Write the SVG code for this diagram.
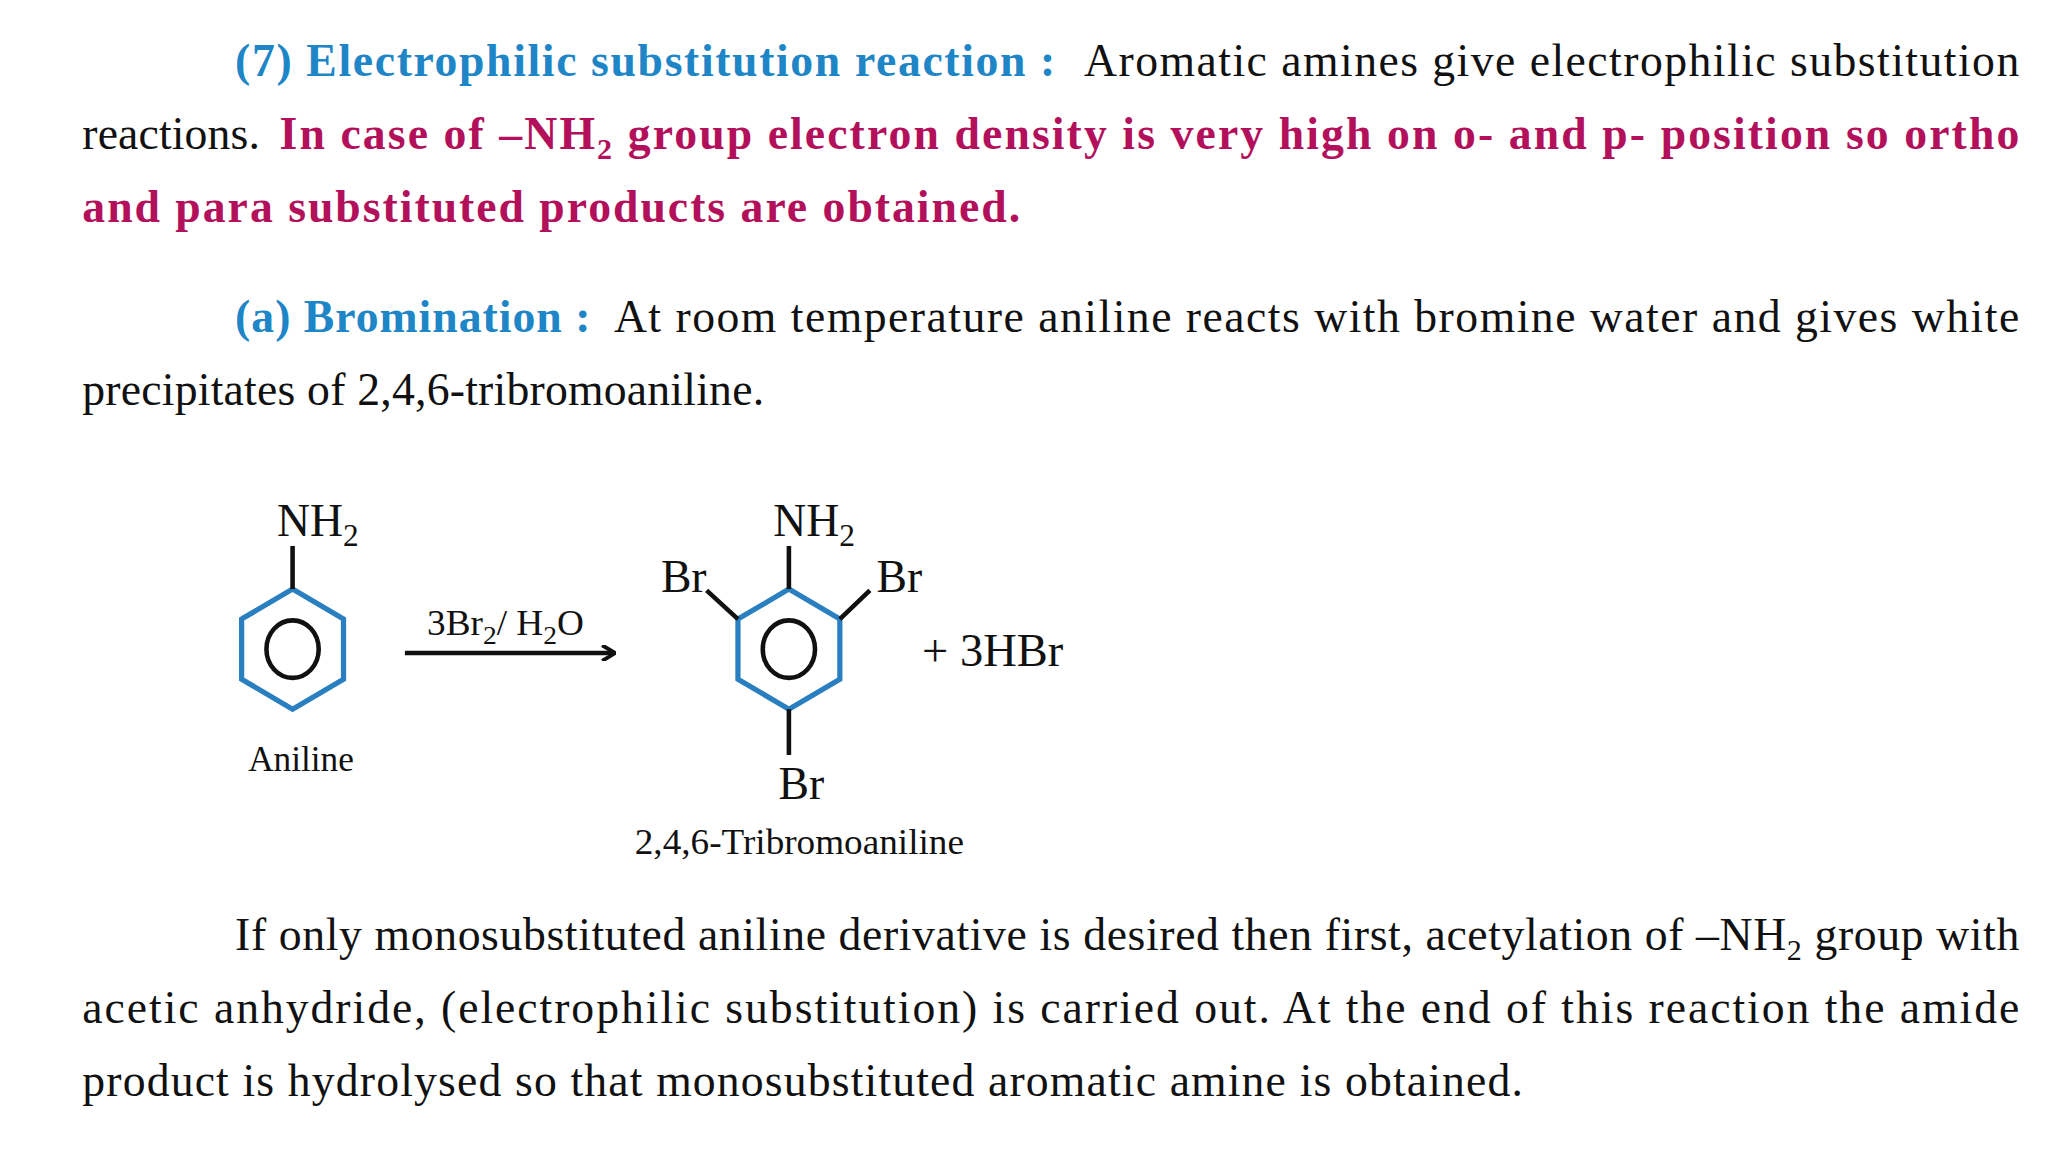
<svg xmlns="http://www.w3.org/2000/svg" width="2048" height="1152" viewBox="0 0 2048 1152">
<style>
text{font-family:"Liberation Serif","Times New Roman",serif;fill:#111}
.t{font-size:35px}
.b{font-weight:bold}
.blue{fill:#1e86c6;font-weight:bold}
.mag{fill:#b3105c;font-weight:bold}
.s{font-size:27px}
.ring{fill:none;stroke:#2a7fc0;stroke-width:4}
.bd{stroke:#111;stroke-width:3.5;fill:none}
</style>
<defs><marker id="ah" markerWidth="12" markerHeight="12" refX="10" refY="6" orient="auto" markerUnits="userSpaceOnUse"><path d="M1,0 L11,6 L1,12" fill="none" stroke="#111" stroke-width="3"/></marker></defs>
<rect width="2048" height="1152" fill="#fff"/>
<g transform="scale(1.30612)">
<g id="text-top">
<text class="t blue" x="180" y="58" textLength="628" lengthAdjust="spacing">(7) Electrophilic substitution reaction :</text>
<text class="t" x="830" y="58" textLength="716" lengthAdjust="spacing">Aromatic amines give electrophilic substitution</text>
<text class="t" x="63" y="114" textLength="136" lengthAdjust="spacing">reactions.</text>
<text class="t mag" x="214" y="114" textLength="1332" lengthAdjust="spacing">In case of –NH<tspan font-size="23" dy="8">2</tspan><tspan dy="-8"> group electron density is very high on o- and p- position so ortho</tspan></text>
<text class="t mag" x="63" y="170" textLength="718" lengthAdjust="spacing">and para substituted products are obtained.</text>
<text class="t blue" x="180" y="254" textLength="272" lengthAdjust="spacing">(a) Bromination :</text>
<text class="t" x="470" y="254" textLength="1076" lengthAdjust="spacing">At room temperature aniline reacts with bromine water and gives white</text>
<text class="t" x="63" y="310" textLength="522" lengthAdjust="spacing">precipitates of 2,4,6-tribromoaniline.</text>
</g>
<g id="aniline">
<polygon class="ring" points="224,451 263,474 263,520 224,543 185,520 185,474"/>
<ellipse class="bd" cx="224" cy="497" rx="20" ry="22"/>
<line class="bd" x1="224" y1="418" x2="224" y2="451"/>
<text class="t" x="212" y="410" font-size="33">NH<tspan font-size="24" dy="8">2</tspan></text>
<text class="s" x="190" y="590">Aniline</text>
</g>
<g id="connectors">
<line class="bd" x1="310" y1="500" x2="470" y2="500" marker-end="url(#ah)"/>
<text class="s" x="327" y="486" textLength="120" lengthAdjust="spacingAndGlyphs">3Br<tspan font-size="20" dy="7">2</tspan><tspan dy="-7">/ H</tspan><tspan font-size="20" dy="7">2</tspan><tspan dy="-7">O</tspan></text>
</g>
<g id="tribromoaniline">
<polygon class="ring" points="604,451 643,474 643,520 604,543 565,520 565,474"/>
<ellipse class="bd" cx="604" cy="497" rx="20" ry="22"/>
<line class="bd" x1="604" y1="418" x2="604" y2="451"/>
<line class="bd" x1="565" y1="474" x2="541" y2="452"/>
<line class="bd" x1="643" y1="474" x2="666" y2="452"/>
<line class="bd" x1="604" y1="543" x2="604" y2="578"/>
<text class="t" x="592" y="410" font-size="33">NH<tspan font-size="24" dy="8">2</tspan></text>
<text class="t" x="506" y="453" font-size="33">Br</text>
<text class="t" x="671" y="453" font-size="33">Br</text>
<text class="t" x="596" y="612" font-size="33">Br</text>
<text class="s" x="486" y="654" textLength="252" lengthAdjust="spacingAndGlyphs">2,4,6-Tribromoaniline</text>
</g>
<g id="hbr"><text class="t" x="706" y="510" font-size="33" textLength="108" lengthAdjust="spacingAndGlyphs">+ 3HBr</text></g>
<g id="text-bottom">
<text class="t" x="180" y="727" textLength="1366" lengthAdjust="spacing">If only monosubstituted aniline derivative is desired then first, acetylation of –NH<tspan font-size="23" dy="8">2</tspan><tspan dy="-8"> group with</tspan></text>
<text class="t" x="63" y="783" textLength="1483" lengthAdjust="spacing">acetic anhydride, (electrophilic substitution) is carried out. At the end of this reaction the amide</text>
<text class="t" x="63" y="839" textLength="1103" lengthAdjust="spacing">product is hydrolysed so that monosubstituted aromatic amine is obtained.</text>
</g>
</g>
</svg>
